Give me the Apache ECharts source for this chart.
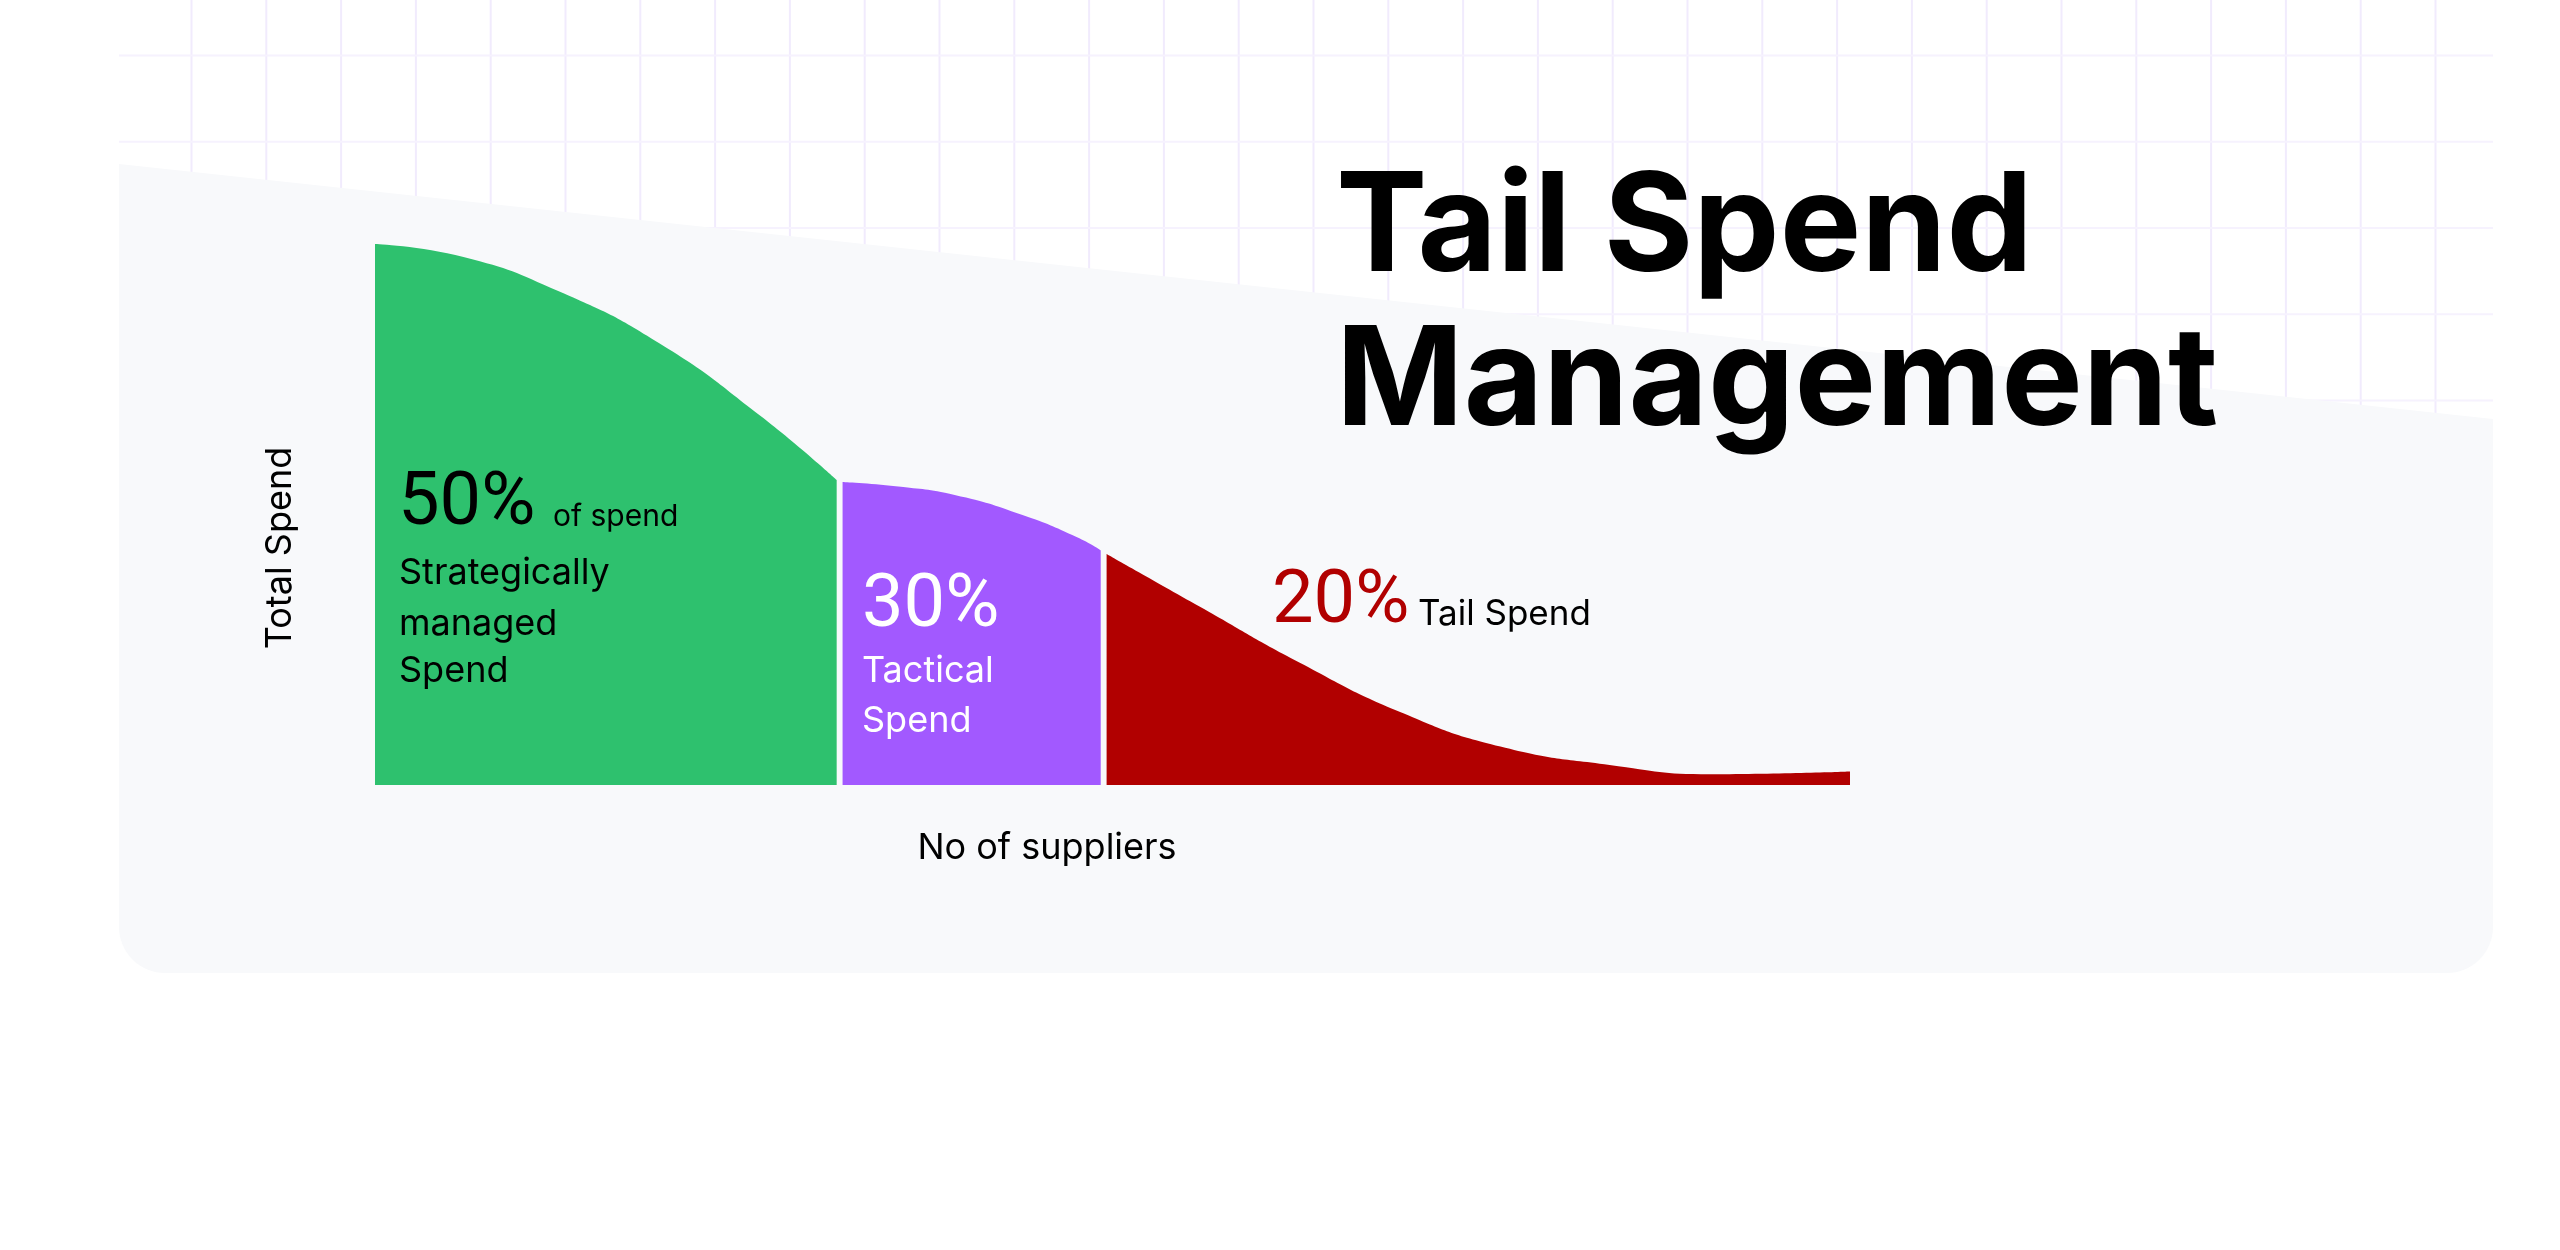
<!DOCTYPE html>
<html>
<head>
<meta charset="utf-8">
<script src="https://cdn.jsdelivr.net/npm/echarts@6/dist/echarts.min.js"></script>
<style>
html,body{margin:0;padding:0;background:#ffffff;}
#chart{width:2560px;height:1250px;}
</style>
</head>
<body>
<div id="chart"></div>
<script>
// ---- data ----
const segmentNames = ['Strategically managed Spend', 'Tactical Spend', 'Tail Spend'];
const segmentShares = ['50%', '30%', '20%'];
const segmentColors = ['#2ec16e', '#a259ff', '#b10000'];

// x = share of suppliers (0-100), y = spend level (0-100)
const strategicX = [0, 6.0, 12.5, 19.3, 26.1, 31.3];
const strategicY = [100, 97.6, 91.2, 81.6, 68.3, 56.4];
const tacticalX = [31.7, 35.3, 39.3, 43.9, 47.6, 49.2];
const tacticalY = [56.0, 55.2, 53.6, 49.9, 45.8, 43.4];
const tailX = [49.6, 55.9, 62.7, 69.5, 76.3, 83.7, 90.5, 100];
const tailY = [42.7, 33.0, 22.6, 13.5, 7.1, 3.7, 2.0, 2.5];

const titleLines = ['Tail Spend', 'Management'];
const xAxisName = 'No of suppliers';
const yAxisName = 'Total Spend';

// ---- build ----
const pair = (xs, ys) => xs.map((x, i) => [x, ys[i]]);
const seriesData = [pair(strategicX, strategicY), pair(tacticalX, tacticalY), pair(tailX, tailY)];

const FONT = 'Inter, "Noto Sans", sans-serif';
const NUMFONT = 'Roboto, Inter, sans-serif';
const graphics = [];

// decorative background grid
const vStart = 191.5, vStep = 74.8, vCount = 31;
for (let i = 0; i < vCount; i++) {
  const x = vStart + i * vStep;
  graphics.push({type: 'line', z: -20, silent: true,
    shape: {x1: x, y1: 0, x2: x, y2: 520},
    style: {stroke: '#f1ebfd', lineWidth: 2}});
}
const hStart = 55.5, hStep = 86.25, hCount = 5;
for (let i = 0; i < hCount; i++) {
  const y = hStart + i * hStep;
  graphics.push({type: 'line', z: -20, silent: true,
    shape: {x1: 119, y1: y, x2: 2493, y2: y},
    style: {stroke: '#f6f2fe', lineWidth: 2}});
}
// card (slanted top + rounded bottom)
graphics.push({type: 'polygon', z: -10, silent: true,
  shape: {points: [[119, 164], [2493, 419], [2493, 620], [119, 620]]},
  style: {fill: '#f8f9fb'}});
graphics.push({type: 'rect', z: -10, silent: true,
  shape: {x: 119, y: 420, width: 2374, height: 553, r: [0, 0, 46, 46]},
  style: {fill: '#f8f9fb'}});

function txt(text, x, y, size, weight, fill, align, family) {
  return {type: 'text', z: 100, silent: true, x: x, y: y,
    style: {text: text, fill: fill, font: weight + ' ' + size + 'px ' + (family || FONT),
      textAlign: align || 'left', textVerticalAlign: 'middle'}};
}
// title
graphics.push(txt(titleLines[0], 1336, 230, 137, 700, '#000000'));
graphics.push(txt(titleLines[1], 1336, 384, 137, 700, '#000000'));
// green labels
graphics.push(txt(segmentShares[0], 398, 505, 74, 400, '#000000', 'left', NUMFONT));
graphics.push(txt('of spend', 553, 517, 30, 400, '#000000'));
graphics.push(txt('Strategically', 399, 573, 36, 400, '#000000'));
graphics.push(txt('managed', 399, 624, 36, 400, '#000000'));
graphics.push(txt('Spend', 399, 671, 36, 400, '#000000'));
// purple labels
graphics.push(txt(segmentShares[1], 862, 607, 74, 400, '#ffffff', 'left', NUMFONT));
graphics.push(txt('Tactical', 862, 671, 36, 400, '#ffffff'));
graphics.push(txt('Spend', 862, 721, 36, 400, '#ffffff'));
// red labels
graphics.push(txt(segmentShares[2], 1272, 603, 74, 400, '#b10000', 'left', NUMFONT));
graphics.push(txt('Tail Spend', 1418, 614, 35, 400, '#000000'));
// axis names
graphics.push(txt(xAxisName, 1047, 848, 36, 400, '#000000', 'center'));
graphics.push({type: 'text', z: 100, silent: true, x: 280, y: 548, rotation: Math.PI / 2,
  style: {text: yAxisName, fill: '#000000', font: '400 36px ' + FONT,
    textAlign: 'center', textVerticalAlign: 'middle'}});

const chart = echarts.init(document.getElementById('chart'), null, {renderer: 'canvas'});
chart.setOption({
  backgroundColor: '#ffffff',
  animation: false,
  grid: {left: 375, right: 710, top: 244, bottom: 465, containLabel: false},
  xAxis: {type: 'value', min: 0, max: 100, show: false, splitLine: {show: false}},
  yAxis: {type: 'value', min: 0, max: 100, show: false, splitLine: {show: false}},
  graphic: graphics,
  series: seriesData.map((d, i) => ({
    name: segmentNames[i],
    type: 'line',
    data: d,
    smooth: 0.5,
    showSymbol: false,
    symbol: 'none',
    silent: true,
    z: 5,
    lineStyle: {width: 0, color: segmentColors[i]},
    itemStyle: {color: segmentColors[i]},
    areaStyle: {color: segmentColors[i], opacity: 1}
  }))
});
</script>
</body>
</html>
